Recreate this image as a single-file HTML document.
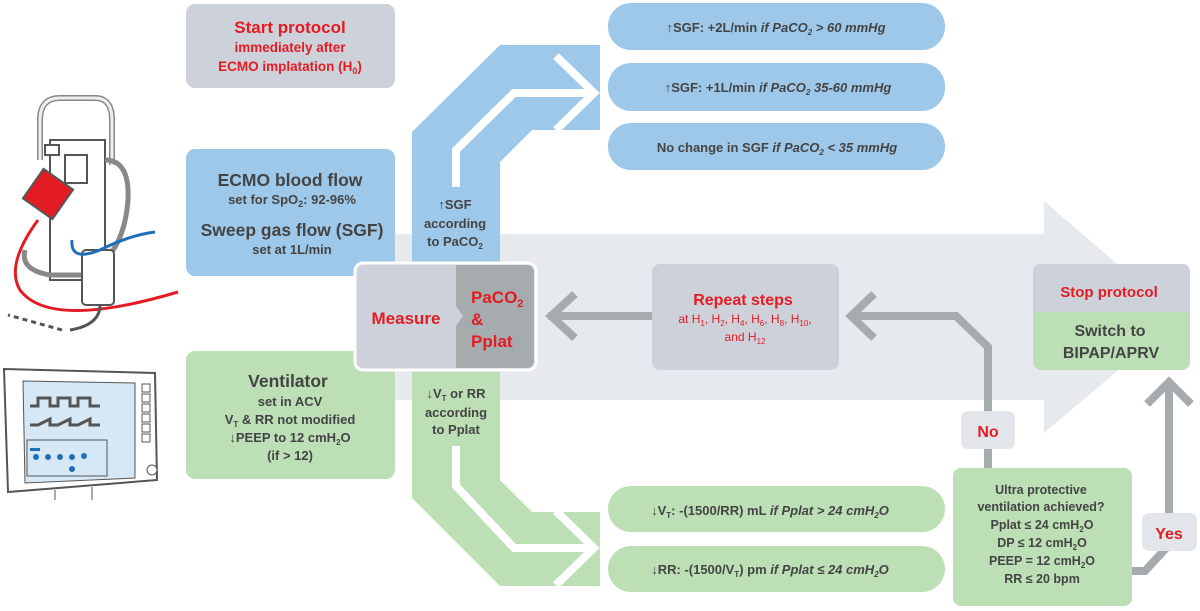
<!DOCTYPE html>
<html><head><meta charset="utf-8"><style>
html,body{margin:0;padding:0;background:#fff;}
svg{display:block;font-family:"Liberation Sans",sans-serif;font-weight:bold;}
</style></head><body>
<svg width="1200" height="611" viewBox="0 0 1200 611" xmlns="http://www.w3.org/2000/svg">
<!-- big background arrow -->
<polygon points="395,234 1044,234 1044,201 1180,318 1044,433 1044,400 395,400" fill="#e6e9ee"/>
<!-- blue band -->
<polygon points="412,262 412,132 500,45 600,45 600,130 532,130 500,162 500,262" fill="#9dc8ea"/>
<polyline points="456,187 456,150 514,93 594,93" fill="none" stroke="#fff" stroke-width="8"/>
<polyline points="556,56 594,93 556,130" fill="none" stroke="#fff" stroke-width="8"/>
<!-- green band -->
<polygon points="412,370 412,498 500,586 600,586 600,512 532,512 500,480 500,370" fill="#bcdfb6"/>
<polyline points="456,446 456,486 514,548 594,548" fill="none" stroke="#fff" stroke-width="8"/>
<polyline points="556,511 594,548 556,585" fill="none" stroke="#fff" stroke-width="8"/>

<!-- left boxes -->
<rect x="186" y="4" width="209" height="84" rx="9" fill="#cdd1da"/>
<text x="290" y="33" text-anchor="middle" fill="#e31c23" font-size="17">Start protocol</text>
<text x="290" y="52" text-anchor="middle" fill="#e31c23" font-size="13.5">immediately after</text>
<text x="290" y="71" text-anchor="middle" fill="#e31c23" font-size="13.5">ECMO implatation (H<tspan font-size="9" dy="3">0</tspan><tspan dy="-3">)</tspan></text>

<rect x="186" y="149" width="209" height="127" rx="9" fill="#9dc8ea"/>
<text x="290" y="186" text-anchor="middle" fill="#444" font-size="17.5">ECMO blood flow</text>
<text x="292" y="204" text-anchor="middle" fill="#444" font-size="13">set for SpO<tspan font-size="9" dy="3">2</tspan><tspan dy="-3">: 92-96%</tspan></text>
<text x="292" y="236" text-anchor="middle" fill="#444" font-size="17.5">Sweep gas flow (SGF)</text>
<text x="292" y="254" text-anchor="middle" fill="#444" font-size="13">set at 1L/min</text>

<rect x="186" y="351" width="209" height="128" rx="9" fill="#bcdfb6"/>
<text x="288" y="387" text-anchor="middle" fill="#444" font-size="17.5">Ventilator</text>
<text x="290" y="406" text-anchor="middle" fill="#444" font-size="13">set in ACV</text>
<text x="290" y="424" text-anchor="middle" fill="#444" font-size="13">V<tspan font-size="8" dy="3">T</tspan><tspan dy="-3"> &amp; RR not modified</tspan></text>
<text x="290" y="442" text-anchor="middle" fill="#444" font-size="13">↓PEEP to 12 cmH<tspan font-size="8" dy="3">2</tspan><tspan dy="-3">O</tspan></text>
<text x="290" y="460" text-anchor="middle" fill="#444" font-size="13">(if &gt; 12)</text>

<!-- band labels -->
<text x="455" y="209" text-anchor="middle" fill="#444" font-size="13">↑SGF</text>
<text x="455" y="228" text-anchor="middle" fill="#444" font-size="13">according</text>
<text x="455" y="246" text-anchor="middle" fill="#444" font-size="13">to PaCO<tspan font-size="8" dy="3">2</tspan></text>
<text x="456" y="398" text-anchor="middle" fill="#444" font-size="13">↓V<tspan font-size="8" dy="3">T</tspan><tspan dy="-3"> or RR</tspan></text>
<text x="456" y="417" text-anchor="middle" fill="#444" font-size="13">according</text>
<text x="456" y="434" text-anchor="middle" fill="#444" font-size="13">to Pplat</text>

<!-- measure box -->
<rect x="355" y="263" width="181" height="107" rx="8" fill="#cdd1da" stroke="#fff" stroke-width="3"/>
<path d="M456,265 H526 Q534,265 534,273 V360 Q534,368 526,368 H456 V326 L463,316 L456,306 Z" fill="#a6abad"/>
<text x="406" y="324" text-anchor="middle" fill="#e31c23" font-size="17">Measure</text>
<text x="471" y="303" fill="#e31c23" font-size="17">PaCO<tspan font-size="11" dy="4">2</tspan></text>
<text x="471" y="325" fill="#e31c23" font-size="17">&amp;</text>
<text x="471" y="347" fill="#e31c23" font-size="17">Pplat</text>

<!-- right pills -->
<rect x="608" y="3" width="337" height="47" rx="23" fill="#9dc8ea"/>
<text x="776" y="32" text-anchor="middle" fill="#444" font-size="13">↑SGF: +2L/min <tspan font-style="italic">if PaCO<tspan font-size="8" dy="3">2</tspan><tspan dy="-3"> &gt; 60 mmHg</tspan></tspan></text>
<rect x="608" y="63" width="337" height="48" rx="23" fill="#9dc8ea"/>
<text x="778" y="92" text-anchor="middle" fill="#444" font-size="13">↑SGF: +1L/min <tspan font-style="italic">if PaCO<tspan font-size="8" dy="3">2</tspan><tspan dy="-3"> 35-60 mmHg</tspan></tspan></text>
<rect x="608" y="123" width="337" height="47" rx="23" fill="#9dc8ea"/>
<text x="777" y="152" text-anchor="middle" fill="#444" font-size="13">No change in SGF <tspan font-style="italic">if PaCO<tspan font-size="8" dy="3">2</tspan><tspan dy="-3"> &lt; 35 mmHg</tspan></tspan></text>
<rect x="608" y="486" width="337" height="46" rx="23" fill="#bcdfb6"/>
<text x="770" y="515" text-anchor="middle" fill="#444" font-size="13">↓V<tspan font-size="8" dy="3">T</tspan><tspan dy="-3">: -(1500/RR) mL </tspan><tspan font-style="italic">if Pplat &gt; 24 cmH<tspan font-size="8" dy="3">2</tspan><tspan dy="-3">O</tspan></tspan></text>
<rect x="608" y="546" width="337" height="46" rx="23" fill="#bcdfb6"/>
<text x="770" y="574" text-anchor="middle" fill="#444" font-size="13">↓RR: -(1500/V<tspan font-size="8" dy="3">T</tspan><tspan dy="-3">) pm </tspan><tspan font-style="italic">if Pplat ≤ 24 cmH<tspan font-size="8" dy="3">2</tspan><tspan dy="-3">O</tspan></tspan></text>

<!-- connectors -->
<line x1="548" y1="316" x2="652" y2="316" stroke="#a6abad" stroke-width="8"/>
<polyline points="575,294 551,316 575,338" fill="none" stroke="#a6abad" stroke-width="8"/>
<polyline points="988,468 988,347 956,316 852,316" fill="none" stroke="#a6abad" stroke-width="8"/>
<polyline points="874,294 851,316 874,338" fill="none" stroke="#a6abad" stroke-width="8"/>
<polyline points="1132,571 1145,571 1169,545 1169,382" fill="none" stroke="#a6abad" stroke-width="8"/>
<polyline points="1147,404 1169,382 1191,404" fill="none" stroke="#a6abad" stroke-width="8"/>

<!-- repeat steps -->
<rect x="652" y="264" width="187" height="106" rx="8" fill="#cdd1da"/>
<text x="743" y="305" text-anchor="middle" fill="#e31c23" font-size="16">Repeat steps</text>
<text x="745" y="323" text-anchor="middle" fill="#e31c23" font-size="12" font-weight="normal">at H<tspan font-size="8" dy="3">1</tspan><tspan dy="-3">, H</tspan><tspan font-size="8" dy="3">2</tspan><tspan dy="-3">, H</tspan><tspan font-size="8" dy="3">4</tspan><tspan dy="-3">, H</tspan><tspan font-size="8" dy="3">6</tspan><tspan dy="-3">, H</tspan><tspan font-size="8" dy="3">8</tspan><tspan dy="-3">, H</tspan><tspan font-size="8" dy="3">10</tspan><tspan dy="-3">,</tspan></text>
<text x="745" y="341" text-anchor="middle" fill="#e31c23" font-size="12" font-weight="normal">and H<tspan font-size="8" dy="3">12</tspan></text>

<!-- stop -->
<rect x="1033" y="264" width="157" height="106" rx="8" fill="#bcdfb6"/>
<path d="M1033,312 V272 Q1033,264 1041,264 H1182 Q1190,264 1190,272 V312 Z" fill="#cdd1da"/>
<text x="1109" y="297" text-anchor="middle" fill="#e31c23" font-size="15">Stop protocol</text>
<text x="1110" y="336" text-anchor="middle" fill="#444" font-size="16">Switch to</text>
<text x="1111" y="358" text-anchor="middle" fill="#444" font-size="16">BIPAP/APRV</text>

<!-- ultra -->
<rect x="953" y="468" width="179" height="138" rx="8" fill="#bcdfb6"/>
<g fill="#444" font-size="12.5" text-anchor="middle">
<text x="1041" y="494">Ultra protective</text>
<text x="1041" y="511">ventilation achieved?</text>
<text x="1042" y="529">Pplat ≤ 24 cmH<tspan font-size="8" dy="3">2</tspan><tspan dy="-3">O</tspan></text>
<text x="1042" y="547">DP ≤ 12 cmH<tspan font-size="8" dy="3">2</tspan><tspan dy="-3">O</tspan></text>
<text x="1042" y="565">PEEP = 12 cmH<tspan font-size="8" dy="3">2</tspan><tspan dy="-3">O</tspan></text>
<text x="1042" y="583">RR ≤ 20 bpm</text>
</g>
<rect x="961" y="411" width="54" height="38" rx="7" fill="#e2e5ea"/>
<text x="988" y="437" text-anchor="middle" fill="#e31c23" font-size="16">No</text>
<rect x="1142" y="513" width="55" height="38" rx="7" fill="#e2e5ea"/>
<text x="1169" y="539" text-anchor="middle" fill="#e31c23" font-size="16">Yes</text>

<!-- ECMO machine illustration -->
<g fill="none" stroke="#555" stroke-width="2">
<path d="M40,160 V120 Q40,98 60,98 H95 Q112,98 112,120 V165" stroke-width="6" stroke="#888"/>
<path d="M40,160 V120 Q40,98 60,98 H95 Q112,98 112,120 V165" stroke-width="3" stroke="#eee"/>
<rect x="50" y="140" width="55" height="140" fill="#fff"/>
<path d="M105,160 Q130,160 128,200 Q125,240 105,260" stroke="#888" stroke-width="5"/>
<path d="M25,250 Q20,270 50,275 H100" stroke="#888" stroke-width="5"/>
<rect x="82" y="250" width="32" height="55" rx="4" fill="#fff"/>
<rect x="45" y="145" width="14" height="10" fill="#fff"/>
<rect x="65" y="155" width="22" height="28" fill="#fff"/>
</g>
<rect x="30" y="176" width="36" height="36" fill="#e31c23" stroke="#555" stroke-width="2" transform="rotate(35 48 194)"/>
<path d="M38,220 Q5,265 20,290 Q50,330 178,292" fill="none" stroke="#e31c23" stroke-width="3"/>
<path d="M72,240 Q70,262 100,250 Q130,235 155,232" fill="none" stroke="#1f6fb8" stroke-width="3"/>
<path d="M100,305 Q100,325 70,330" fill="none" stroke="#555" stroke-width="3"/>
<path d="M62,330 L8,315" fill="none" stroke="#555" stroke-width="3" stroke-dasharray="5,4"/>

<!-- monitor -->
<path d="M4,369 L155,373 L157,480 L8,492 Z" fill="#fff" stroke="#555" stroke-width="2"/>
<path d="M23,381 L135,383 L135,478 L25,483 Z" fill="#d6e8f5" stroke="#555" stroke-width="1"/>
<path d="M30,406 h8 v-8 h12 v8 h8 v-8 h12 v8 h8 v-8 h12 v8 h10" fill="none" stroke="#555" stroke-width="3"/>
<path d="M30,425 h8 l12,-6 v6 h8 l12,-6 v6 h8 l12,-6 v6 h10" fill="none" stroke="#555" stroke-width="3"/>
<rect x="27" y="440" width="80" height="36" fill="none" stroke="#555" stroke-width="1"/>
<g fill="#1f6fb8"><circle cx="36" cy="457" r="3"/><circle cx="48" cy="457" r="3"/><circle cx="60" cy="457" r="3"/><circle cx="72" cy="457" r="3"/><circle cx="84" cy="456" r="3"/><circle cx="72" cy="469" r="3"/><rect x="30" y="448" width="10" height="3"/></g>
<g fill="#fff" stroke="#555" stroke-width="1"><rect x="142" y="384" width="8" height="8"/><rect x="142" y="394" width="8" height="8"/><rect x="142" y="404" width="8" height="8"/><rect x="142" y="414" width="8" height="8"/><rect x="142" y="424" width="8" height="8"/><rect x="142" y="434" width="8" height="8"/><circle cx="152" cy="470" r="5"/></g>
<line x1="55" y1="490" x2="55" y2="500" stroke="#555"/><line x1="92" y1="487" x2="92" y2="500" stroke="#555"/>
</svg>
</body></html>
